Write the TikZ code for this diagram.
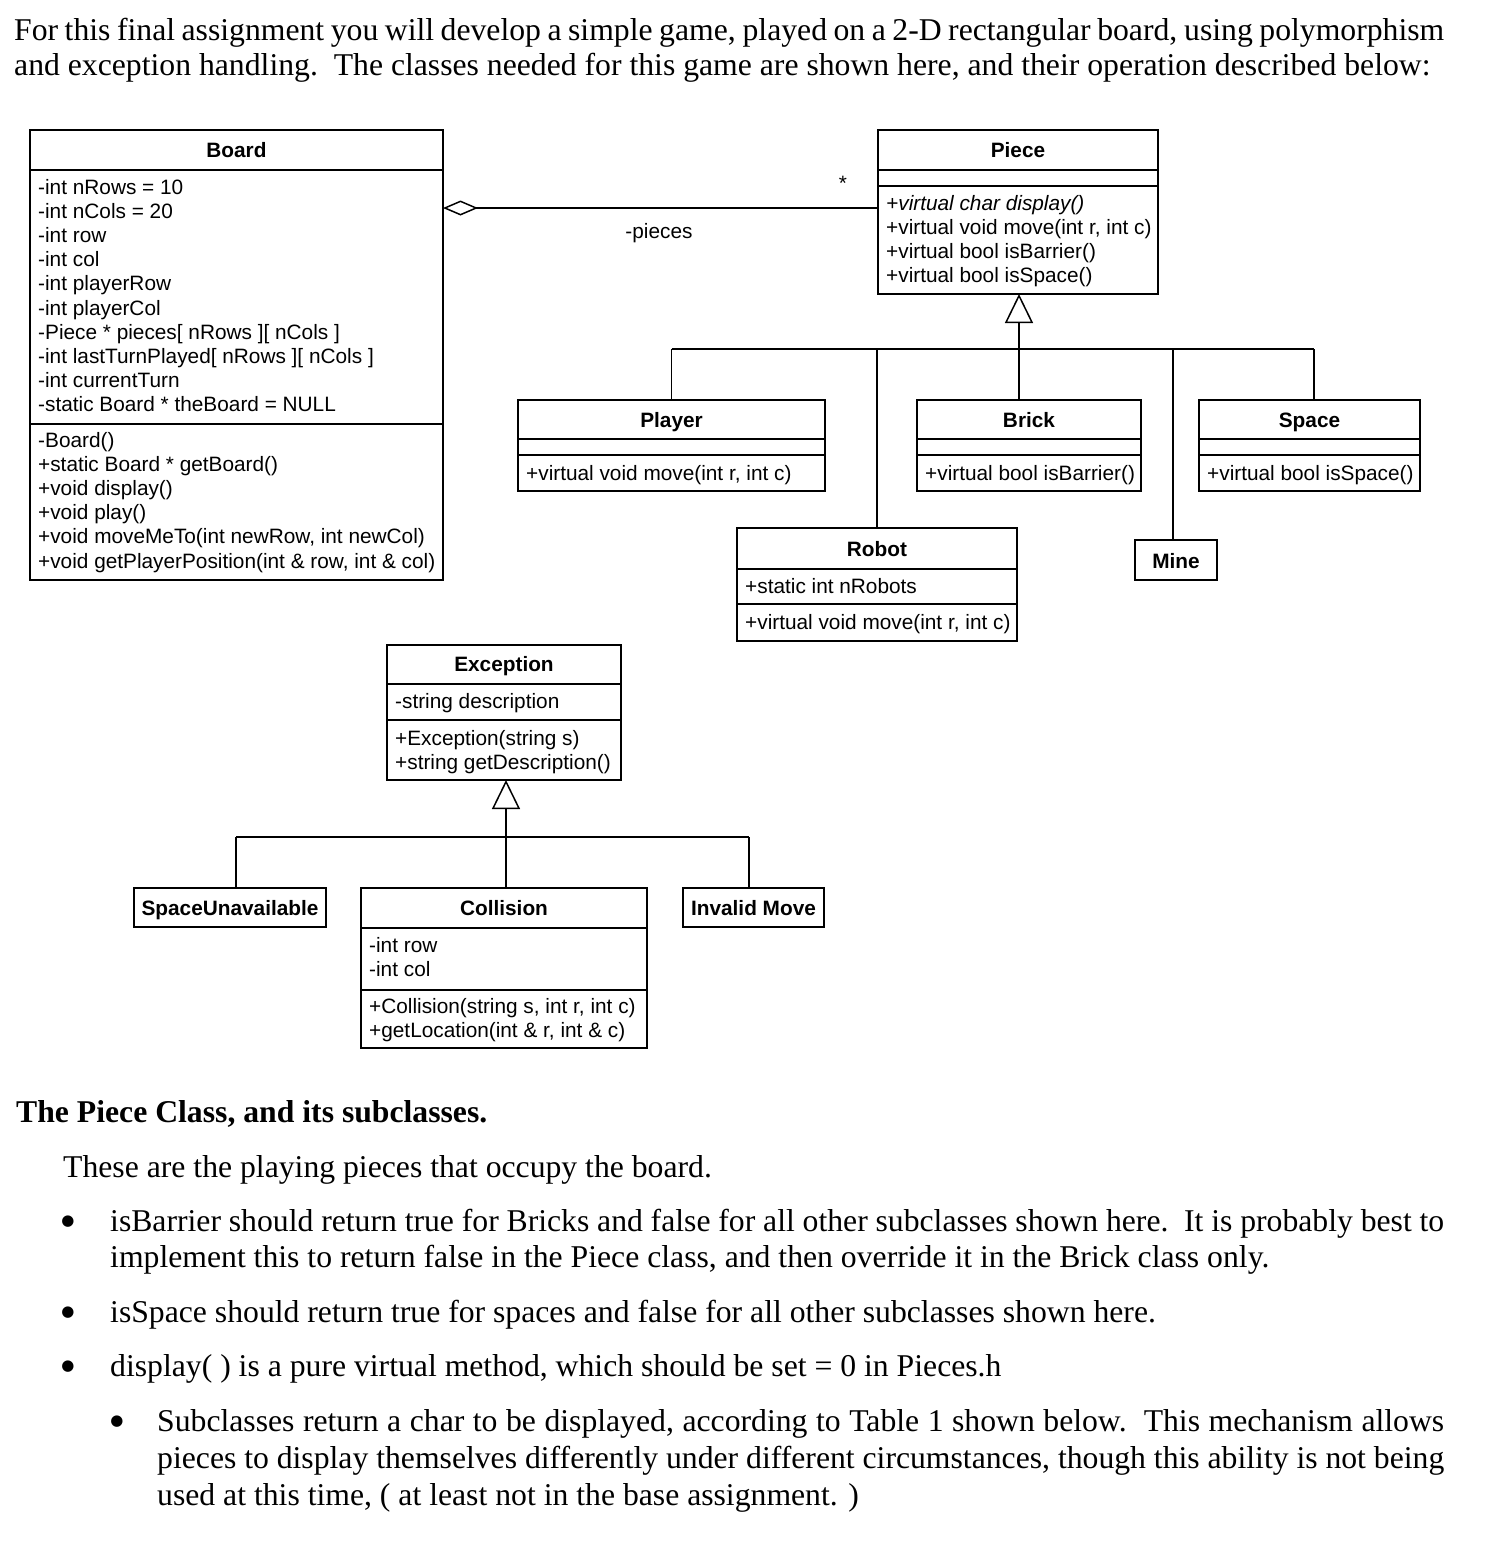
\documentclass[tikz,border=0pt]{standalone}
\usepackage{fontspec}
\setmainfont{Liberation Serif}
\newfontfamily\ufont{Liberation Sans}
\newfontfamily\symfont{DejaVu Sans}
\usetikzlibrary{arrows.meta}
\newcommand\mlines[1]{\vtop{\baselineskip=24.2pt\lineskiplimit=-20pt\halign{##\hfil\cr#1\crcr}}}
\newcommand\umlbox[5]{\node[box, minimum width={(#4-#2)*1pt}, minimum height={(#5-#3)*1pt}] (#1) at (#2,#3) {};}
\newcommand\jline[2]{\makebox[#1][s]{#2}}
\begin{document}
\begin{tikzpicture}[x=1pt,y=-1pt,
  box/.style={draw, line width=1.5pt, inner sep=0pt, outer sep=0pt, anchor=north west},
  sepline/.style={line width=1.5pt},
  conn/.style={line width=1.5pt},
  stem/.style={line width=2.6pt},
  ttl/.style={font=\ufont\bfseries\fontsize{20.8}{24}\selectfont, anchor=base, inner sep=0pt},
  txt/.style={font=\ufont\fontsize{20.8}{24}\selectfont, anchor=base west, inner sep=0pt},
  doc/.style={font=\fontsize{31.7}{36}\selectfont, anchor=base west, inner sep=0pt},
  bul/.style={font=\symfont\fontsize{15}{18}\selectfont, anchor=center, inner sep=0pt},
]
\useasboundingbox[fill=white] (0,0) rectangle (1497,1567);

% header
\node[doc] (h1) at (14,40) {\jline{1430pt}{For this final assignment you will develop a simple game, played on a 2-D rectangular board, using polymorphism}};
\node[doc] (h2) at (14,75) {and exception handling.\ \ The classes needed for this game are shown here, and their operation described below:};

% Board
\umlbox{board}{30}{130}{443}{580}
\draw[sepline] (30,170) -- (443,170);
\draw[sepline] (30,424) -- (443,424);
\node[ttl] (boardT) at (236.5,157) {Board};
\node[txt] (boardA) at (38,194) {\mlines{-int nRows = 10\cr -int nCols = 20\cr -int row\cr -int col\cr -int playerRow\cr -int playerCol\cr -Piece * pieces[ nRows ][ nCols ]\cr -int lastTurnPlayed[ nRows ][ nCols ]\cr -int currentTurn\cr -static Board * theBoard = NULL}};
\node[txt] (boardM) at (38,447) {\mlines{-Board()\cr +static Board * getBoard()\cr +void display()\cr +void play()\cr +void moveMeTo(int newRow, int newCol)\cr +void getPlayerPosition(int \& row, int \& col)}};

% Piece
\umlbox{piece}{878}{130}{1158}{294}
\draw[sepline] (878,170) -- (1158,170);
\draw[sepline] (878,186) -- (1158,186);
\node[ttl] (pieceT) at (1018,157) {Piece};
\node[txt] (pieceM) at (886,210) {\mlines{\itshape +virtual char display()\cr +virtual void move(int r, int c)\cr +virtual bool isBarrier()\cr +virtual bool isSpace()}};

% aggregation
\coordinate (aggS) at (443,208);
\draw[conn, {Diamond[open,length=35pt,width=15pt]}-] (aggS) -- (piece.west |- aggS);
\node[txt, anchor=base] (pcsL) at (659,238) {-pieces};
\node[txt, anchor=base] (mult) at (843,190) {*};

% Player
\umlbox{player}{518}{400}{825}{491}
\draw[sepline] (518,439) -- (825,439);
\draw[sepline] (518,455) -- (825,455);
\node[ttl] (playerT) at (671.5,427) {Player};
\node[txt] (playerM) at (526,480) {+virtual void move(int r, int c)};

% Brick
\umlbox{brick}{917}{400}{1141}{491}
\draw[sepline] (917,439) -- (1141,439);
\draw[sepline] (917,455) -- (1141,455);
\node[ttl] (brickT) at (1029,427) {Brick};
\node[txt] (brickM) at (925,480) {+virtual bool isBarrier()};

% Space
\umlbox{space}{1199}{400}{1420}{491}
\draw[sepline] (1199,439) -- (1420,439);
\draw[sepline] (1199,455) -- (1420,455);
\node[ttl] (spaceT) at (1309.5,427) {Space};
\node[txt] (spaceM) at (1207,480) {+virtual bool isSpace()};

% Robot
\umlbox{robot}{737}{528}{1017}{641}
\draw[sepline] (737,569) -- (1017,569);
\draw[sepline] (737,604) -- (1017,604);
\node[ttl] (robotT) at (877,556) {Robot};
\node[txt] (robotA) at (745,593) {+static int nRobots};
\node[txt] (robotM) at (745,629) {+virtual void move(int r, int c)};

% Mine
\umlbox{mine}{1135}{540}{1217}{580}
\node[ttl] (mineT) at (1176,568) {Mine};

% Piece inheritance
\coordinate (inhP) at (1019,349);
\coordinate (mnB) at (1173,349);
\coordinate (spB) at (1314,349);
\draw[stem] (inhP) -- (1019,322);
\draw[conn, -{Triangle[open,length=29pt,width=28pt]}] (inhP) -- (inhP |- piece.south);
\draw[conn] (player.north |- inhP) -- (spB);
\draw[conn] (player.north |- inhP) -- (player.north);
\draw[conn] (robot.north |- inhP) -- (robot.north);
\draw[conn] (inhP) -- (brick.north -| inhP);
\draw[conn] (mnB) -- (mnB |- mine.north);
\draw[conn] (spB) -- (spB |- space.north);

% Exception
\umlbox{exc}{387}{645}{621}{780}
\draw[sepline] (387,684) -- (621,684);
\draw[sepline] (387,720) -- (621,720);
\node[ttl] (excT) at (504,671) {Exception};
\node[txt] (excA) at (395,708) {-string description};
\node[txt] (excM) at (395,745) {\mlines{+Exception(string s)\cr +string getDescription()}};

% SpaceUnavailable
\umlbox{su}{134}{888}{326}{927}
\node[ttl] (suT) at (230,915) {SpaceUnavailable};

% Collision
\umlbox{coll}{361}{888}{647}{1048}
\draw[sepline] (361,928) -- (647,928);
\draw[sepline] (361,990) -- (647,990);
\node[ttl] (collT) at (504,915) {Collision};
\node[txt] (collA) at (369,952) {\mlines{-int row\cr -int col}};
\node[txt] (collM) at (369,1013) {\mlines{+Collision(string s, int r, int c)\cr +getLocation(int \& r, int \& c)}};

% Invalid Move
\umlbox{im}{683}{888}{824}{927}
\node[ttl] (imT) at (753.5,915) {Invalid Move};

% Exception inheritance
\coordinate (inhE) at (506,837);
\coordinate (eL) at (236,837);
\coordinate (eR) at (749,837);
\draw[stem] (inhE) -- (506,812);
\draw[conn, -{Triangle[open,length=29pt,width=28pt]}] (inhE) -- (inhE |- exc.south);
\draw[conn] (eL) -- (eR);
\draw[conn] (eL) -- (eL |- su.north);
\draw[conn] (inhE) -- (inhE |- coll.north);
\draw[conn] (eR) -- (eR |- im.north);

% bottom text
\node[doc, font=\bfseries\fontsize{31.7}{36}\selectfont] (sec) at (16,1122) {The Piece Class, and its subclasses.};
\node[doc] (p1) at (63,1177) {These are the playing pieces that occupy the board.};
\node[bul] (b1) at (68,1222) {●};
\node[doc] (b1a) at (110,1231) {\jline{1334pt}{isBarrier should return true for Bricks and false for all other subclasses shown here.\ \ It is probably best to}};
\node[doc] (b1b) at (110,1267) {implement this to return false in the Piece class, and then override it in the Brick class only.};
\node[bul] (b2) at (68,1313) {●};
\node[doc] (b2a) at (110,1322) {isSpace should return true for spaces and false for all other subclasses shown here.};
\node[bul] (b3) at (68,1367) {●};
\node[doc] (b3a) at (110,1376) {display( ) is a pure virtual method, which should be set = 0 in Pieces.h};
\node[bul] (b4) at (117,1422) {●};
\node[doc] (b4a) at (157,1431) {\jline{1287pt}{Subclasses return a char to be displayed, according to Table 1 shown below.\ \ This mechanism allows}};
\node[doc] (b4b) at (157,1468) {\jline{1287pt}{pieces to display themselves differently under different circumstances, though this ability is not being}};
\node[doc] (b4c) at (157,1505) {used at this time, ( at least not in the base assignment. )};
\end{tikzpicture}
\end{document}
